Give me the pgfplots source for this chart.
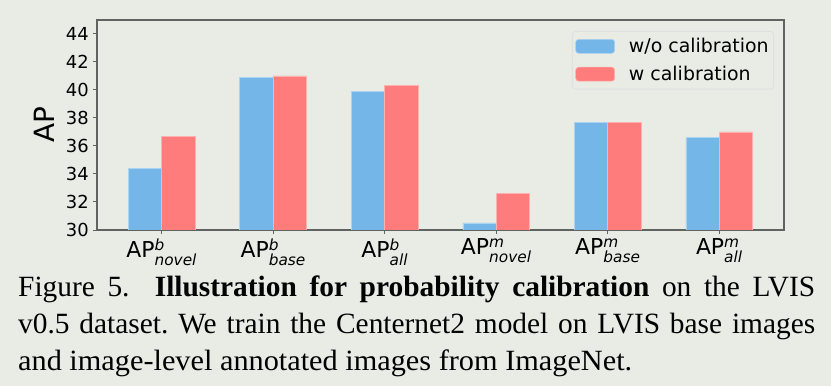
\documentclass[border=0pt]{standalone}
\usepackage{fontspec}
\usepackage{amsmath}
\usepackage{pgfplots}
\pgfplotsset{compat=1.18}
\setmainfont{Liberation Serif}
\newfontfamily\dejavu{DejaVu Sans}
\definecolor{bg}{RGB}{232,236,228}
\definecolor{cblue}{RGB}{116,182,232}
\definecolor{cred}{RGB}{255,124,124}
\definecolor{axgray}{RGB}{96,100,96}
\newcommand{\APl}[2]{AP$^{\textit{#1}}_{\textit{#2}}$}
\frenchspacing
\begin{document}
\begin{tikzpicture}
\fill[bg] (-97bp,-156bp) rectangle (734bp,230bp);
\useasboundingbox (-97bp,-156bp) rectangle (734bp,230bp);
\begin{axis}[
  scale only axis,
  width=687bp, height=210bp,
  at={(0,0)}, anchor=south west,
  xmin=-0.58, xmax=5.58,
  ymin=30, ymax=45,
  ytick={30,32,34,36,38,40,42,44},
  xtick={0,1,2,3,4,5},
  xticklabels={\APl{b}{novel},\APl{b}{base},\APl{b}{all},\APl{m}{novel},\APl{m}{base},\APl{m}{all}},
  xtick pos=bottom, ytick pos=left,
  tick align=outside,
  major tick length=4bp,
  every tick/.style={axgray, line width=1bp},
  axis line style={axgray, line width=1.3bp},
  /pgf/number format/assume math mode=true,
  yticklabel style={font=\fontsize{18}{20}\dejavu, inner sep=1bp, xshift=-3bp},
  xticklabel style={font=\fontsize{22}{24}\dejavu, yshift=-1bp},
  ylabel={AP},
  every axis y label/.style={at={(axis description cs:-0.0771,0.5)}, rotate=90, anchor=center, font=\fontsize{28}{30}\dejavu},
  axis background/.style={fill=bg},
  legend style={at={(1,1)}, anchor=north east, xshift=-10bp, yshift=-11bp,
    draw=black!12, rounded corners=3bp, fill=bg, line width=0.8bp,
    font=\fontsize{19}{22}\dejavu, inner xsep=3bp, inner ysep=5bp, row sep=8bp,
    /tikz/every even column/.append style={column sep=0bp}},
  legend cell align=left,
  legend image code/.code={\fill[#1] (0bp,-7bp) rectangle (39bp,7bp);},
]
\addplot[ybar, bar width=0.3, bar shift=-0.15, fill=cblue, draw=cblue!60!white, line width=0.6bp]
  coordinates {(0,34.4) (1,40.9) (2,39.9) (3,30.5) (4,37.7) (5,36.6)};
\addlegendentry{\hspace{12bp}w/o calibration}
\addplot[ybar, bar width=0.3, bar shift=0.15, fill=cred, draw=cred!60!white, line width=0.6bp]
  coordinates {(0,36.7) (1,41.0) (2,40.3) (3,32.6) (4,37.7) (5,37.0)};
\addlegendentry{\hspace{12bp}w calibration}
\end{axis}
\node[anchor=base west, inner sep=0] at (-79bp,-66bp) {\fontsize{29.5}{37}\selectfont\makebox[797bp][s]{Figure 5.\ \ \textbf{Illustration for probability calibration} on the LVIS}};
\node[anchor=base west, inner sep=0] at (-79bp,-103bp) {\fontsize{29.5}{37}\selectfont\makebox[797bp][s]{v0.5 dataset. We train the Centernet2 model on LVIS base images}};
\node[anchor=base west, inner sep=0] at (-79bp,-140bp) {\fontsize{29.5}{37}\selectfont\resizebox{614bp}{\height}{and image-level annotated images from ImageNet.}};
\end{tikzpicture}
\end{document}
